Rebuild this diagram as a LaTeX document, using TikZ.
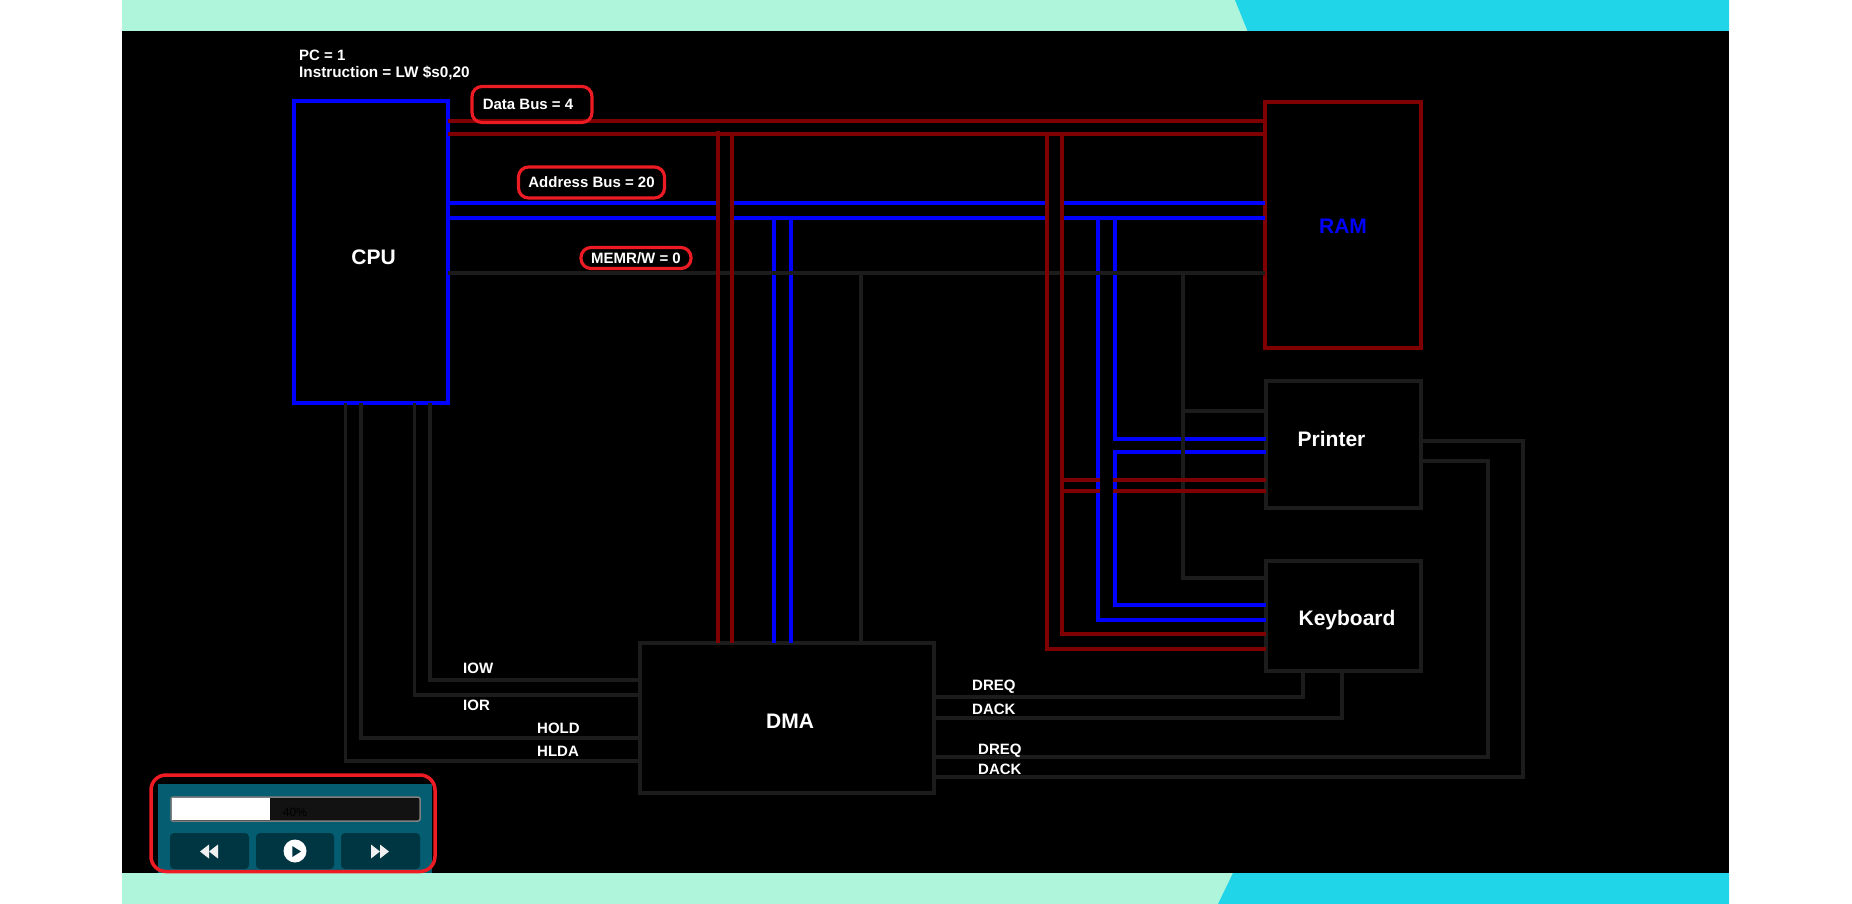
\documentclass[tikz,border=0pt]{standalone}
\usepackage{fontspec}
\setmainfont{Liberation Sans}
\usepackage{tikz}
\usetikzlibrary{positioning}
\definecolor{mint}{HTML}{AFF5DC}
\definecolor{cyanband}{HTML}{20D5E8}
\definecolor{maroonbus}{HTML}{7F0000}
\definecolor{bluebus}{HTML}{0000FF}
\definecolor{ctrlgray}{HTML}{1C1C1C}
\definecolor{callred}{HTML}{ED1C24}
\definecolor{panelteal}{HTML}{045D70}
\definecolor{buttondark}{HTML}{003542}

\begin{document}
\begin{tikzpicture}[
      x=1pt, y=-1pt,
      devbox/.style={draw, fill=black, line width=4pt, inner sep=0pt, outer sep=0pt},
      boxtext/.style={text=white, font=\fontsize{21}{24}\selectfont\bfseries, inner sep=0pt},
      smalltext/.style={text=white, font=\fontsize{15}{18}\selectfont\bfseries, inner sep=0pt, anchor=west},
      callout/.style={draw=callred, line width=3.2pt, rounded corners=10pt, inner sep=0pt, outer sep=0pt,
                      text=white, font=\fontsize{15}{18}\selectfont\bfseries},
      databus/.style={maroonbus, line width=4pt},
      addrbus/.style={bluebus, line width=4pt},
      ctrlbus/.style={ctrlgray, line width=3.5pt},
      playbtn/.style={fill=buttondark, rounded corners=4pt, minimum width=79pt, minimum height=36pt,
                      inner sep=0pt, outer sep=0pt}
    ]
      \useasboundingbox (0,0) rectangle (1852,904);
      \fill[white] (0,0) rectangle (1852,904);

      % Page bands and black stage
      \fill[black] (122,30) rectangle (1729,874);
      \fill[mint] (122,0) rectangle (1248,31);
      \fill[cyanband] (1235,0) -- (1729,0) -- (1729,31) -- (1247.5,31) -- cycle;
      \fill[mint] (122,873) rectangle (1234,904);
      \fill[cyanband] (1233,873) -- (1729,873) -- (1729,904) -- (1218,904) -- cycle;

      % Devices
      \node[devbox, draw=bluebus, minimum width=154.3pt, minimum height=302.3pt] (cpu) at (371,252) {};
      \node[devbox, draw=maroonbus, minimum width=156pt, minimum height=246.5pt] (ram) at (1343,225) {};
      \node[devbox, draw=ctrlgray, minimum width=155pt, minimum height=127pt] (printer) at (1343.5,444.5) {};
      \node[devbox, draw=ctrlgray, minimum width=155pt, minimum height=110pt] (keyboard) at (1343.5,616) {};
      \node[devbox, draw=ctrlgray, minimum width=294pt, minimum height=150pt] (dma) at (787,718) {};

      \node[boxtext] (cputext) at (373.6,257) {CPU};
      \node[boxtext, text=bluebus] (ramtext) at (1343,226) {RAM};
      \node[boxtext] (printertext) at (1331.5,439) {Printer};
      \node[boxtext] (keyboardtext) at (1347,620) {Keyboard};
      \node[boxtext] (dmatext) at (790,721) {DMA};

      % Tap points on the buses
      \foreach \tapname/\xx in {dtapa/718,dtapb/732,dtapc/1047,dtapd/1062}
        \coordinate (\tapname) at (\xx,134);
      \foreach \tapname/\xx in {atapa/774,atapb/791,atapc/1098,atapd/1115}
        \coordinate (\tapname) at (\xx,218);
      \foreach \tapname/\xx in {ctapa/861,ctapb/1183}
        \coordinate (\tapname) at (\xx,273);

      % Address bus
      \foreach \yy in {203,218} {
        \draw[addrbus] (cpu.east |- 0,\yy) -- (716,\yy) (733.5,\yy) -- (1045,\yy) (1063.5,\yy) -- (ram.west |- 0,\yy);
      }
      \draw[addrbus] (atapa) -- (atapa |- dma.north);
      \draw[addrbus] (atapb) -- (atapb |- dma.north);
      \draw[addrbus] (atapc) |- (keyboard.west |- 0,619.5);
      \draw[addrbus] (atapd) |- (printer.west |- 0,439.3);
      \draw[addrbus] (printer.west |- 0,452) -- (1115,452) |- (keyboard.west |- 0,605);

      % Control lines
      \draw[ctrlbus] (cpu.east |- 0,273) -- (ram.west |- 0,273);
      \draw[ctrlbus] (ctapa) -- (ctapa |- dma.north);
      \draw[ctrlbus] (ctapb) |- (keyboard.west |- 0,578);
      \draw[ctrlbus] (ctapb |- 0,411) -- (printer.west |- 0,411);
      \draw[ctrlbus] (cpu.south -| 430,0) |- (dma.west |- 0,680);
      \draw[ctrlbus] (cpu.south -| 414.5,0) |- (dma.west |- 0,695);
      \draw[ctrlbus] (cpu.south -| 361,0) |- (dma.west |- 0,738);
      \draw[ctrlbus] (cpu.south -| 345.5,0) |- (dma.west |- 0,761);
      \draw[ctrlbus] (keyboard.south -| 1303,0) |- (dma.east |- 0,697);
      \draw[ctrlbus] (keyboard.south -| 1342,0) |- (dma.east |- 0,718);
      \draw[ctrlbus] (printer.east |- 0,461) -- (1488,461) |- (dma.east |- 0,757);
      \draw[ctrlbus] (printer.east |- 0,441) -- (1523,441) |- (dma.east |- 0,777);

      % Data bus
      \draw[databus] (cpu.east |- 0,121.5) -- (ram.west |- 0,121.5);
      \draw[databus] (cpu.east |- 0,134) -- (ram.west |- 0,134);
      \draw[databus] (dtapa |- 0,131) -- (dtapa |- dma.north);
      \draw[databus] (dtapb) -- (dtapb |- dma.north);
      \draw[databus] (dtapc) |- (keyboard.west |- 0,649);
      \draw[databus] (dtapd) |- (keyboard.west |- 0,634);
      \foreach \yy in {480.3,491.3} {
        \draw[databus] (1062,\yy) -- (1100,\yy) (1113.3,\yy) -- (printer.west |- 0,\yy);
      }

      % Values shown on the buses
      \node[smalltext] (pcvalue) at (299,55) {PC = 1};
      \node[smalltext, font=\fontsize{15.3}{18}\selectfont\bfseries] (instrvalue) at (299,73.5) {Instruction = LW \$s0,20};
      \node[callout, minimum width=120pt, minimum height=36pt] (datavalue) at (532,104.5) {Data Bus = 4\hspace*{8pt}};
      \node[callout, minimum width=146pt, minimum height=31pt] (addrvalue) at (591.5,182.5) {Address Bus = 20};
      \node[callout, minimum width=110pt, minimum height=21pt] (memvalue) at (636,258) {MEMR/W = 0};

      % Signal names
      \node[smalltext] (iowtext) at (463,668) {IOW};
      \node[smalltext] (iortext) at (463,705) {IOR};
      \node[smalltext] (holdtext) at (537,728) {HOLD};
      \node[smalltext] (hldatext) at (537,751) {HLDA};
      \node[smalltext] (dreqa) at (972,687) {DREQ};
      \node[smalltext] (dacka) at (972,709) {DACK};
      \node[smalltext] (dreqb) at (978,751) {DREQ};
      \node[smalltext] (dackb) at (978,769) {DACK};

      % Player
      \fill[panelteal] (158,784) rectangle (432,873);
      \node[draw=gray, fill=black!93!white, line width=1.5pt, rounded corners=2pt, minimum width=249pt,
            minimum height=24pt, inner sep=0pt, outer sep=0pt] (progress) at (295.5,809) {};
      \fill[white] (172,798) rectangle (270,820);
      \node[text=black, font=\fontsize{12}{14}\selectfont, inner sep=0pt] (percent) at (295,812) {40\%};
      \node[playbtn] (rewind) at (209.5,851) {};
      \node[playbtn, minimum width=78pt] (play) at (295,851) {};
      \node[playbtn] (forward) at (380.5,851) {};
      \foreach \xx in {200,209}
        \fill[white!88!gray] (\xx,851.5) -- (\xx+9,844.5) -- (\xx+9,858.5) -- cycle;
      \foreach \xx in {371,380}
        \fill[white!88!gray] (\xx,844.5) -- (\xx+9,851.5) -- (\xx,858.5) -- cycle;
      \fill[white] (295,851) circle (11.5);
      \fill[buttondark] (292.3,846) -- (301,851.5) -- (292.3,857) -- cycle;
      \draw[callred, line width=3.5pt, rounded corners=15pt] (151,775) rectangle (435,871.5);
    \end{tikzpicture}
\end{document}
